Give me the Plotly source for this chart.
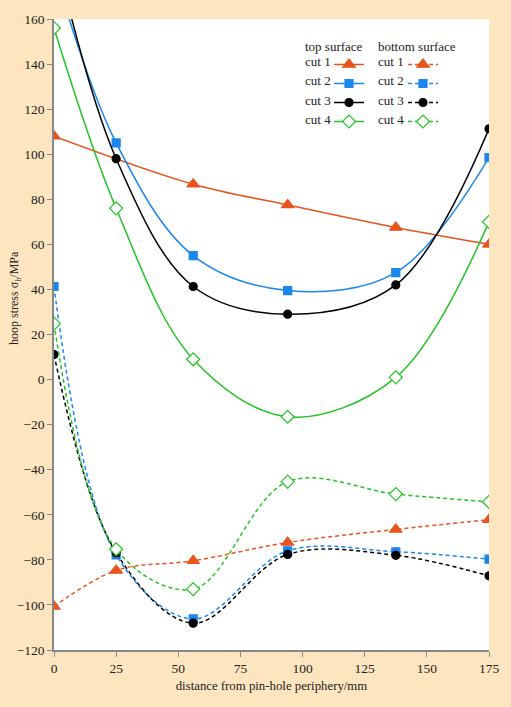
import plotly.graph_objects as go

x_all = [0, 25, 56, 94, 137.5, 175]
x_cut1_top = [0, 56, 94, 137.5, 175]

top_cut1 = [108, 86.7, 77.5, 67.5, 60]
top_cut2 = [182, 105, 55, 39.5, 47.5, 98.5]
top_cut3 = [192, 98, 41.3, 29, 42, 111.3]
top_cut4 = [156, 76, 9, -16.5, 1, 70]

bot_cut1 = [-100.7, -84.7, -80.4, -72.3, -66.5, -62.2]
bot_cut2 = [41.3, -77.8, -106.2, -76, -76.4, -79.7]
bot_cut3 = [11.1, -76.8, -108.1, -77.6, -78, -87.1]
bot_cut4 = [24.8, -75.3, -93, -45.3, -50.8, -54.3]

cut_names = ["cut 1", "cut 2", "cut 3", "cut 4"]
colors = ["#e8541c", "#1a87ef", "#000000", "#22c322"]
fills = ["#e8541c", "#1a87ef", "#000000", "white"]
symbols = ["triangle-up", "square", "circle", "diamond"]
msizes = [11, 8, 8, 10]

BG = "#fde6bf"
FONT = "Liberation Serif"
TXT = "#222222"

fig = go.Figure()

top_series = [(x_cut1_top, top_cut1), (x_all, top_cut2), (x_all, top_cut3), (x_all, top_cut4)]
bot_series = [(x_all, bot_cut1), (x_all, bot_cut2), (x_all, bot_cut3), (x_all, bot_cut4)]

for group, series, dash in [("legend", top_series, "solid"), ("legend2", bot_series, "4px,3px")]:
    for i, (xs, ys) in enumerate(series):
        fig.add_trace(go.Scatter(
            x=xs, y=ys, name=" ", mode="lines+markers",
            line=dict(color=colors[i], width=1.5, dash=dash, shape="spline", smoothing=1.0),
            marker=dict(symbol=symbols[i], size=msizes[i], color=fills[i],
                        line=dict(color=colors[i], width=1.2)),
            legend=group))

L, R, T, B = 54, 489, 19, 650
W, H = 511, 707

def px(xp):
    return (xp - L) / (R - L)

def py(yp):
    return (B - yp) / (B - T)

legend_common = dict(bgcolor="rgba(0,0,0,0)", font=dict(family=FONT, size=11),
                     itemwidth=30, tracegroupgap=0, yanchor="top", xanchor="left",
                     traceorder="normal")
fig.update_layout(
    legend=dict(x=px(329), y=py(50), **legend_common),
    legend2=dict(x=px(403), y=py(50), **legend_common),
)

row_y = [62, 81, 100, 119]
ann = []
ann.append(dict(text="top surface", x=px(303), y=py(47)))
ann.append(dict(text="bottom surface", x=px(376), y=py(47)))
for k, nm in enumerate(cut_names):
    ann.append(dict(text=nm, x=px(303), y=py(row_y[k])))
    ann.append(dict(text=nm, x=px(376), y=py(row_y[k])))
for a in ann:
    a.update(xref="paper", yref="paper", xanchor="left", yanchor="middle", showarrow=False,
             font=dict(family=FONT, size=13, color=TXT))
ann.append(dict(text="hoop stress σ<sub>h</sub>/MPa", textangle=-90, x=-39 / (R - L), y=py(298),
                xref="paper", yref="paper", xanchor="center", yanchor="middle", showarrow=False,
                font=dict(family=FONT, size=12, color=TXT)))
fig.update_layout(annotations=ann)

fig.update_xaxes(range=[0, 175], tickvals=[0, 25, 50, 75, 100, 125, 150, 175],
                 showgrid=False, zeroline=False, showline=True, linecolor="#888888", linewidth=1.5,
                 ticks="outside", ticklen=5, tickcolor="#888888", automargin=False,
                 tickfont=dict(family=FONT, size=13.5, color=TXT),
                 title=dict(text="distance from pin-hole periphery/mm",
                            font=dict(family=FONT, size=12.8, color=TXT), standoff=6))
fig.update_yaxes(range=[-120, 160], dtick=20,
                 showgrid=False, zeroline=False, showline=True, linecolor="#888888", linewidth=1.5,
                 ticks="outside", ticklen=5, tickcolor="#888888", automargin=False,
                 tickfont=dict(family=FONT, size=13.5, color=TXT))

fig.update_layout(width=W, height=H, paper_bgcolor=BG, plot_bgcolor="white",
                  margin=dict(l=L, r=W - R, t=T, b=H - B), showlegend=True)

fig.write_html("out.html", config={"displayModeBar": False},
               post_script="document.body.style.margin='0';document.body.style.background='%s';" % BG)
